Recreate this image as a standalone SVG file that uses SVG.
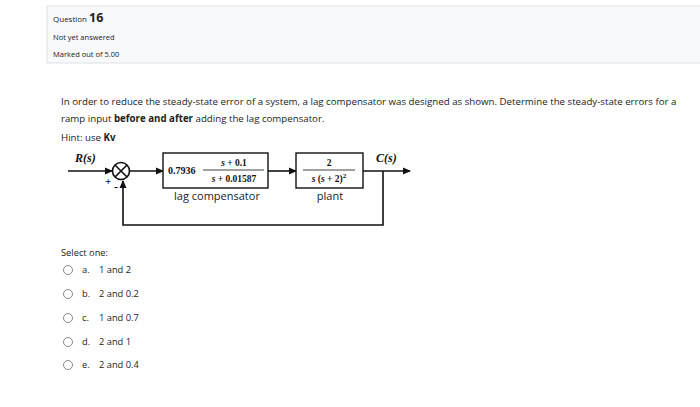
<svg xmlns="http://www.w3.org/2000/svg" width="700" height="407" viewBox="0 0 700 407">
<style>
.t{font-family:"Open Sans","Liberation Sans",sans-serif;fill:#222}
.m{font-family:"Liberation Serif",serif;font-weight:bold;fill:#111}
.ln{stroke:#111;stroke-width:1.6;fill:none}
.rb{fill:#fff;stroke:#888;stroke-width:1}
</style>
<defs><marker id="ah" markerWidth="8" markerHeight="8" refX="7" refY="4" orient="auto" markerUnits="userSpaceOnUse"><path d="M0,0.5 L8,4 L0,7.5z" fill="#111"/></marker></defs>
<rect width="700" height="407" fill="#fff"/>
<rect x="47" y="6" width="660" height="57" fill="#f8f9fa" stroke="#dee2e6"/>
<text class="t" x="53" y="22" font-size="8">Question <tspan font-size="12.5" font-weight="bold">16</tspan></text>
<text class="t" x="53" y="40" font-size="7.5">Not yet answered</text>
<text class="t" x="53" y="57" font-size="7.5">Marked out of 5.00</text>
<text class="t" x="61" y="105" font-size="9.7">In order to reduce the steady-state error of a system, a lag compensator was designed as shown. Determine the steady-state errors for a</text>
<text class="t" x="61" y="122" font-size="9.7">ramp input <tspan font-weight="bold">before and after</tspan> adding the lag compensator.</text>
<text class="t" x="61" y="141" font-size="9.7">Hint: use <tspan font-weight="bold">Kv</tspan></text>
<g id="connectors">
<line class="ln" x1="68" y1="171" x2="112" y2="171" marker-end="url(#ah)"/>
<line class="ln" x1="130" y1="171" x2="163" y2="171" marker-end="url(#ah)"/>
<line class="ln" x1="268" y1="171" x2="296" y2="171" marker-end="url(#ah)"/>
<line class="ln" x1="363" y1="171" x2="410" y2="171" marker-end="url(#ah)"/>
<polyline class="ln" points="383,171 383,225 123,225 123,181" marker-end="url(#ah)"/>
</g>
<g id="sum"><circle cx="121" cy="171" r="8.5" fill="#fff" stroke="#111" stroke-width="1.6"/>
<path class="ln" d="M115,165 L127,177 M127,165 L115,177"/>
<text class="m" x="105" y="185" font-size="11">+</text><text class="m" x="114" y="191" font-size="12">-</text></g>
<g id="input"><text class="m" x="75" y="162" font-size="12" font-style="italic">R(s)</text></g>
<g id="lag"><rect x="163" y="153" width="105" height="35" fill="#fff" stroke="#111" stroke-width="1.4"/>
<text class="m" x="168" y="174" font-size="10">0.7936</text>
<line x1="203" y1="170" x2="264" y2="170" stroke="#111" stroke-width="0.8"/>
<text class="m" x="234" y="166" font-size="9.5" text-anchor="middle"><tspan font-style="italic">s</tspan> + 0.1</text>
<text class="m" x="234" y="182" font-size="9.5" text-anchor="middle"><tspan font-style="italic">s</tspan> + 0.01587</text>
<text class="t" x="217" y="200" font-size="11" text-anchor="middle">lag compensator</text></g>
<g id="plant"><rect x="296" y="153" width="67" height="35" fill="#fff" stroke="#111" stroke-width="1.4"/>
<line x1="303" y1="170" x2="355" y2="170" stroke="#111" stroke-width="0.8"/>
<text class="m" x="329" y="166" font-size="9.5" text-anchor="middle">2</text>
<text class="m" x="329" y="182" font-size="9.5" text-anchor="middle"><tspan font-style="italic">s</tspan> (<tspan font-style="italic">s</tspan> + 2)<tspan font-size="7" dy="-4">2</tspan></text>
<text class="t" x="330" y="200" font-size="11" text-anchor="middle">plant</text></g>
<g id="output"><text class="m" x="376" y="162" font-size="12" font-style="italic">C(s)</text></g>
<text class="t" x="61" y="256" font-size="9.3">Select one:</text>
<g font-size="9.3">
<circle class="rb" cx="68" cy="270" r="4.5"/><text class="t" x="82" y="273">a.</text><text class="t" x="99" y="273">1 and 2</text>
<circle class="rb" cx="68" cy="294" r="4.5"/><text class="t" x="82" y="297">b.</text><text class="t" x="99" y="297">2 and 0.2</text>
<circle class="rb" cx="68" cy="318" r="4.5"/><text class="t" x="82" y="321">c.</text><text class="t" x="99" y="321">1 and 0.7</text>
<circle class="rb" cx="68" cy="342" r="4.5"/><text class="t" x="82" y="345">d.</text><text class="t" x="99" y="345">2 and 1</text>
<circle class="rb" cx="68" cy="365" r="4.5"/><text class="t" x="82" y="368">e.</text><text class="t" x="99" y="368">2 and 0.4</text>
</g>
</svg>
